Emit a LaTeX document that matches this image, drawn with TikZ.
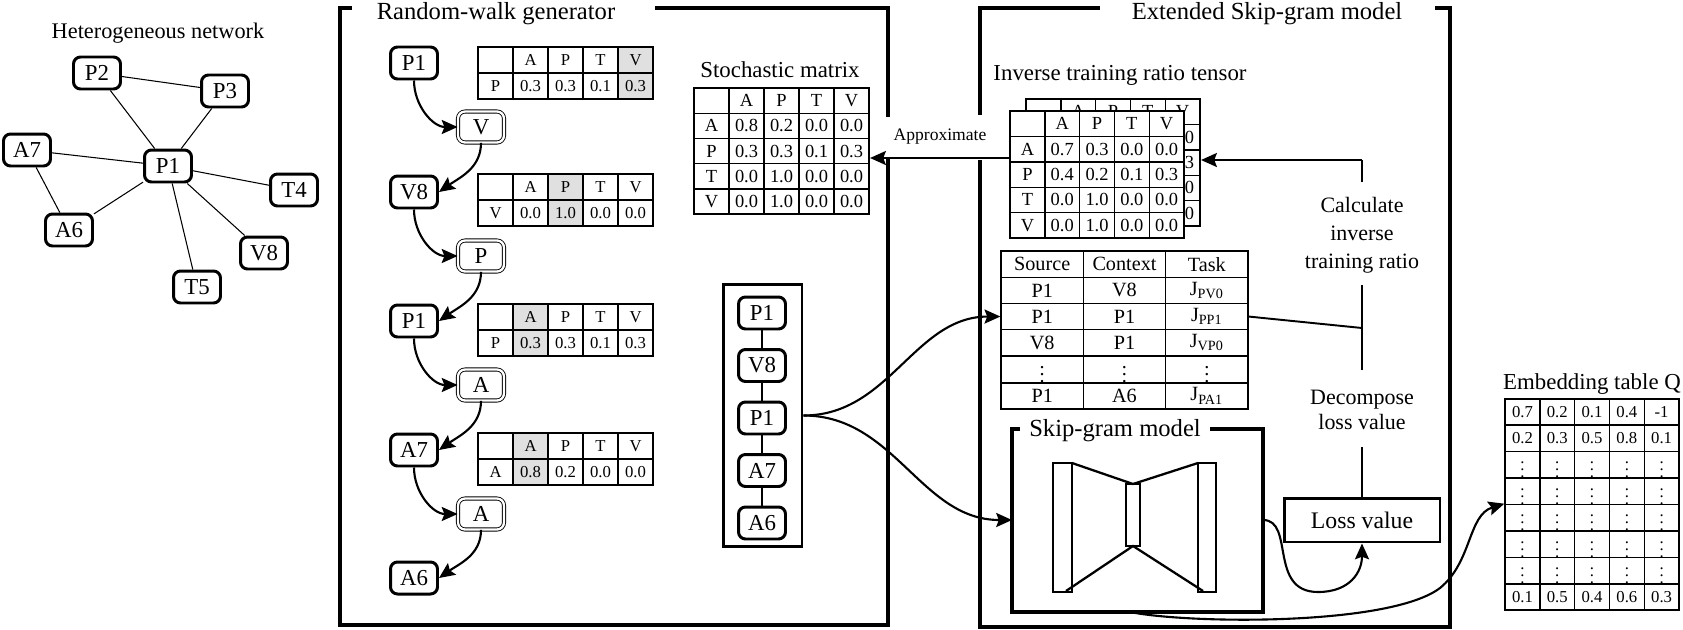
\documentclass[tikz,border=0pt]{standalone}
\usepackage{fontspec}
\setmainfont{Liberation Serif}
\usetikzlibrary{matrix,arrows.meta,calc}
\newcommand\fs[2]{\fontsize{#1}{#2}\selectfont}
\newcommand\vd{$\vdots$}
\begin{document}
\begin{tikzpicture}[x=0.02cm,y=-0.02cm,
 nd/.style={draw,line width=1.7pt,rounded corners=4pt,minimum width=0.94cm,minimum height=0.64cm,inner sep=0pt,font=\fs{13}{15}},
 dn/.style={draw,line width=0.5pt,double,double distance=1.3pt,rounded corners=4pt,minimum width=0.92cm,minimum height=0.62cm,inner sep=0pt,font=\fs{13}{15}},
 ed/.style={line width=0.6pt},
 fr/.style={line width=1.8pt},
 cn/.style={line width=1.1pt},
 arr/.style={line width=1.2pt,-{Stealth[length=9pt,width=8pt,inset=1.5pt]}},
 tb/.style={matrix of nodes,nodes in empty cells,inner sep=0pt,column sep=-0.8pt,row sep=-0.8pt,
   nodes={draw,line width=0.8pt,inner sep=0pt,anchor=center,fill=white}},
 sh/.style={fill=black!12},
 ttl/.style={inner sep=0pt,font=\fs{13}{15}}]
\useasboundingbox (0,0) rectangle (1683,629);

% ---------- heterogeneous network ----------
\node[ttl,font=\fs{12.7}{15}] (ht) at (158,33) {Heterogeneous network};
\node[nd] (nP2) at (97,73) {P2};
\node[nd] (nP3) at (225,91) {P3};
\node[nd] (nA7) at (27,150) {A7};
\node[nd] (nP1) at (168,166) {P1};
\node[nd] (nT4) at (294,190) {T4};
\node[nd] (nA6) at (69,230) {A6};
\node[nd] (nV8) at (264,253) {V8};
\node[nd] (nT5) at (197,287) {T5};
\draw[ed] (nP2) -- (nP3);
\draw[ed] (nP2) -- (nP1);
\draw[ed] (nP3) -- (nP1);
\draw[ed] (nA7) -- (nP1);
\draw[ed] (nA7) -- (nA6);
\draw[ed] (nA6) -- (nP1);
\draw[ed] (nP1) -- (nT4);
\draw[ed] (nP1) -- (nT5);
\draw[ed] (nP1) -- (nV8);

% ---------- random-walk generator ----------
\draw[fr] (352,8) -- (340,8) -- (340,625) -- (888,625) -- (888,158);
\draw[fr] (888,117) -- (888,8) -- (655,8);
\node[inner sep=0pt,font=\fs{14}{16}] (rwt) at (496,14) {Random-walk generator};

\node[nd] (w1) at (414,63) {P1};
\node[dn] (w2) at (481,127) {V};
\node[nd] (w3) at (414,192) {V8};
\node[dn] (w4) at (481,256) {P};
\node[nd] (w5) at (414,321) {P1};
\node[dn] (w6) at (481,385) {A};
\node[nd] (w7) at (414,450) {A7};
\node[dn] (w8) at (481,514) {A};
\node[nd] (w9) at (414,578) {A6};
\foreach \a/\b in {w1/w2,w3/w4,w5/w6,w7/w8}
  \draw[arr] (\a.south) to[out=-90,in=180] (\b.west);
\foreach \a/\b in {w2/w3,w4/w5,w6/w7,w8/w9}
  \draw[arr] (\a.south) to[out=-90,in=35] (\b.east);

\matrix (t1) [tb,anchor=north west,nodes={minimum width=0.7cm,minimum height=0.52cm,font=\fs{9.5}{11}}] at (477,46) {
  & A & P & T & |[sh]| V \\
 P & 0.3 & 0.3 & 0.1 & |[sh]| 0.3 \\};
\matrix (t2) [tb,anchor=north west,nodes={minimum width=0.7cm,minimum height=0.52cm,font=\fs{9.5}{11}}] at (477,173) {
  & A & |[sh]| P & T & V \\
 V & 0.0 & |[sh]| 1.0 & 0.0 & 0.0 \\};
\matrix (t3) [tb,anchor=north west,nodes={minimum width=0.7cm,minimum height=0.52cm,font=\fs{9.5}{11}}] at (477,303) {
  & |[sh]| A & P & T & V \\
 P & |[sh]| 0.3 & 0.3 & 0.1 & 0.3 \\};
\matrix (t4) [tb,anchor=north west,nodes={minimum width=0.7cm,minimum height=0.52cm,font=\fs{9.5}{11}}] at (477,432) {
  & |[sh]| A & P & T & V \\
 A & |[sh]| 0.8 & 0.2 & 0.0 & 0.0 \\};

\node[ttl] (smt) at (780,70) {Stochastic matrix};
\matrix (sm) [tb,anchor=north west,nodes={minimum width=0.7cm,minimum height=0.504cm,font=\fs{10.5}{12}}] at (693,87) {
  & A & P & T & V \\
 A & 0.8 & 0.2 & 0.0 & 0.0 \\
 P & 0.3 & 0.3 & 0.1 & 0.3 \\
 T & 0.0 & 1.0 & 0.0 & 0.0 \\
 V & 0.0 & 1.0 & 0.0 & 0.0 \\};

\node[draw,line width=1.7pt,minimum width=1.58cm,minimum height=5.26cm] (pb) at (762.5,415.5) {};
\node[nd] (q1) at (762,313) {P1};
\node[nd] (q2) at (762,365.5) {V8};
\node[nd] (q3) at (762,418) {P1};
\node[nd] (q4) at (762,470.5) {A7};
\node[nd] (q5) at (762,523) {A6};
\foreach \a/\b in {q1/q2,q2/q3,q3/q4,q4/q5}
  \draw[cn] (\a.south) -- (\b.north);

% ---------- extended skip-gram ----------
\draw[fr] (1100,8) -- (980,8) -- (980,115);
\draw[fr] (980,160) -- (980,627) -- (1450,627) -- (1450,8) -- (1435,8);
\node[inner sep=0pt,font=\fs{14}{16}] (est) at (1267,14) {Extended Skip-gram model};

\node[ttl] (itt) at (1120,75) {Inverse training ratio tensor};
\matrix (tk) [tb,anchor=north west,nodes={minimum width=0.696cm,minimum height=0.508cm,font=\fs{10.5}{12}}] at (1025,98) {
  & A & P & T & V \\
 A & 0.7 & 0.3 & 0.0 & 0.0 \\
 P & 0.4 & 0.2 & 0.1 & 0.3 \\
 T & 0.0 & 1.0 & 0.0 & 0.0 \\
 V & 0.0 & 1.0 & 0.0 & 0.0 \\};
\matrix (tf) [tb,anchor=north west,nodes={minimum width=0.696cm,minimum height=0.508cm,font=\fs{10.5}{12}}] at (1009,110) {
  & A & P & T & V \\
 A & 0.7 & 0.3 & 0.0 & 0.0 \\
 P & 0.4 & 0.2 & 0.1 & 0.3 \\
 T & 0.0 & 1.0 & 0.0 & 0.0 \\
 V & 0.0 & 1.0 & 0.0 & 0.0 \\};

\matrix (src) [tb,anchor=north west,nodes={minimum width=1.646cm,minimum height=0.524cm,font=\fs{11.5}{13}}] at (1000,250) {
 Source & Context & Task \\
 P1 & V8 & J\textsubscript{PV0} \\
 P1 & P1 & J\textsubscript{PP1} \\
 V8 & P1 & J\textsubscript{VP0} \\
 \vd & \vd & \vd \\
 P1 & A6 & J\textsubscript{PA1} \\};

% approximate arrow
\coordinate (a1) at (1009,158);
\draw[arr] (a1) -- (sm.east |- a1);
\node[inner sep=0pt,font=\fs{10}{12}] (apx) at (940,137) {Approximate};

% right-hand connector column
\node[align=center,inner sep=0pt,font=\fs{12.5}{15.9}] (calc) at (1362,235) {Calculate\\inverse\\training ratio};
\node[align=center,inner sep=0pt,font=\fs{12.5}{14.2}] (dec) at (1362,410) {Decompose\\loss value};
\node[draw,line width=1.7pt,minimum width=3.12cm,minimum height=0.88cm,inner sep=0pt,font=\fs{13.5}{15}] (loss) at (1362,520) {Loss value};
\coordinate (c1) at (1362,160);
\coordinate (c2) at (1362,182);
\coordinate (c3) at (1362,285);
\coordinate (c4) at (1362,328);
\coordinate (c5) at (1362,370);
\coordinate (c6) at (1362,447);
\draw[cn] (c2) -- (c1);
\draw[arr] (c1) -- (tk.east |- c1);
\draw[cn] (c3) -- (c5);
\draw[cn] (src-3-3.east) -- (c4);
\draw[cn] (c6) -- (loss.north);

% skip-gram model
\draw[fr] (1020,429) -- (1012,429) -- (1012,612) -- (1263,612) -- (1263,429) -- (1210,429);
\node[inner sep=0pt,font=\fs{14}{16}] (sgt) at (1115,431) {Skip-gram model};
\draw[line width=1.3pt] (1053,463) rectangle (1072,592);
\draw[line width=1.3pt] (1126,484) rectangle (1140,546);
\draw[line width=1.3pt] (1198,463) rectangle (1216,592);
\draw[line width=1.3pt] (1072,463) -- (1133,484) -- (1198,463);
\draw[line width=1.3pt] (1066,591) -- (1133,546) -- (1203,591);

\coordinate (sgw) at (1012,520);
\coordinate (sge) at (1263,520);
\coordinate (sgb) at (1130,612);
\draw[arr] (pb.east) to[out=0,in=180] (src-3-1.west);
\draw[arr] (pb.east) to[out=0,in=180] (sgw);
\draw[arr] (sge) .. controls (1295,520) and (1268,592) .. (1318,592) .. controls (1350,592) and (1362,572) .. (loss.south);

% embedding table
\node[inner sep=0pt,font=\fs{13}{15}] (embt) at (1592,384) {Embedding table Q};
\matrix (emb) [tb,anchor=north west,nodes={minimum width=0.696cm,minimum height=0.522cm,font=\fs{9.5}{11}}] at (1504,398) {
 0.7 & 0.2 & 0.1 & 0.4 & -1 \\
 0.2 & 0.3 & 0.5 & 0.8 & 0.1 \\
 \vd & \vd & \vd & \vd & \vd \\
 \vd & \vd & \vd & \vd & \vd \\
 \vd & \vd & \vd & \vd & \vd \\
 \vd & \vd & \vd & \vd & \vd \\
 \vd & \vd & \vd & \vd & \vd \\
 0.1 & 0.5 & 0.4 & 0.6 & 0.3 \\};
\draw[arr] (sgb) .. controls (1190,624) and (1390,626) .. (1440,588) .. controls (1472,562) and (1468,515) .. (emb-5-1.north west);
\end{tikzpicture}
\end{document}
